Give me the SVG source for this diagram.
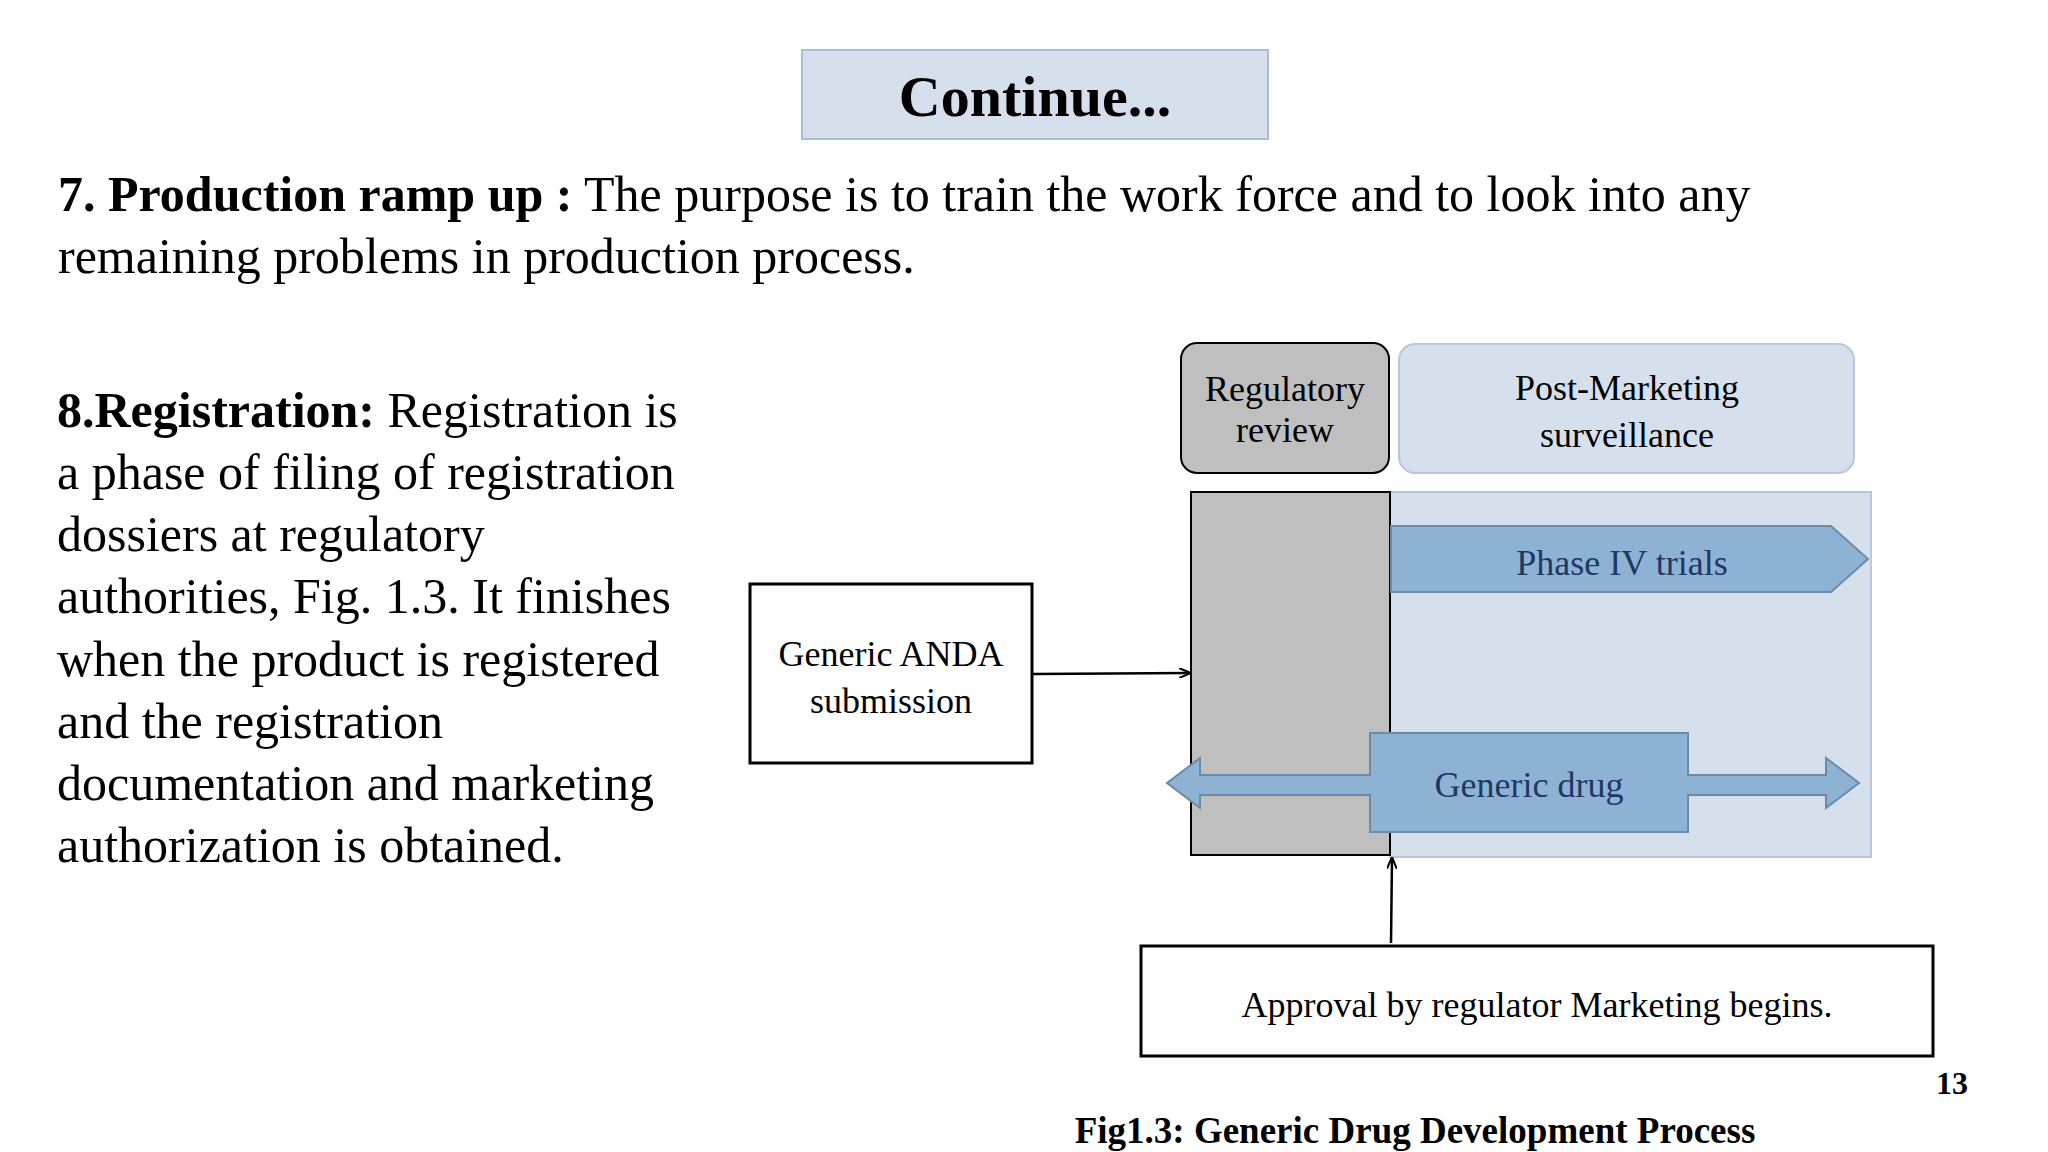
<svg xmlns="http://www.w3.org/2000/svg" width="2048" height="1152" viewBox="0 0 2048 1152">
<defs>
<style>
text{font-family:"Liberation Serif","Times New Roman",serif;fill:#000}
.b{font-size:50px}
.n{font-size:36px;text-anchor:middle}
.blue{fill:#1f3864}
</style>
<marker id="ah" markerWidth="12" markerHeight="10" refX="11" refY="5" orient="auto" markerUnits="userSpaceOnUse"><path d="M0,0 L12,5 L0,10" fill="none" stroke="#000" stroke-width="2"/></marker>
</defs>
<rect width="2048" height="1152" fill="#fff"/>
<g id="title"><rect x="802" y="50" width="466" height="89" fill="#d6e0ec" stroke="#a8bed6" stroke-width="2"/>
<text x="1035" y="116" font-size="58" font-weight="bold" text-anchor="middle">Continue...</text></g>
<g id="text7"><text class="b" x="58" y="211"><tspan font-weight="bold">7. Production ramp up :</tspan> The purpose is to train the work force and to look into any</text>
<text class="b" x="58" y="273">remaining problems in production process.</text></g>
<g id="text8" class="b">
<text class="b" x="57" y="427"><tspan font-weight="bold">8.Registration:</tspan> Registration is</text>
<text class="b" x="57" y="489">a phase of filing of registration</text>
<text class="b" x="57" y="551">dossiers at regulatory</text>
<text class="b" x="57" y="613">authorities, Fig. 1.3. It finishes</text>
<text class="b" x="57" y="676">when the product is registered</text>
<text class="b" x="57" y="738">and the registration</text>
<text class="b" x="57" y="800">documentation and marketing</text>
<text class="b" x="57" y="862">authorization is obtained.</text></g>
<g id="bg"><rect x="1390" y="492" width="481" height="365" fill="#d6e0ec" stroke="#b8c8dc" stroke-width="2"/>
<rect x="1191" y="492" width="199" height="363" fill="#bfbfbf" stroke="#000" stroke-width="2"/></g>
<g id="reg"><rect x="1181" y="343" width="208" height="130" rx="16" fill="#bfbfbf" stroke="#000" stroke-width="2"/>
<text class="n" x="1285" y="401" font-size="34">Regulatory</text><text class="n" x="1285" y="442" font-size="34">review</text></g>
<g id="pm"><rect x="1399" y="344" width="455" height="129" rx="16" fill="#d6e0ec" stroke="#b8c8dc" stroke-width="2"/>
<text class="n" x="1627" y="400">Post-Marketing</text><text class="n" x="1627" y="447">surveillance</text></g>
<g id="phase4"><path d="M1391,526 H1831 L1868,559 L1831,592 H1391 Z" fill="#8eb2d4" stroke="#6d8aa6" stroke-width="2"/>
<text class="n blue" x="1622" y="575">Phase IV trials</text></g>
<g id="generic"><path d="M1200,758 L1200,775 L1370,775 L1370,733 L1688,733 L1688,775 L1826,775 L1826,758 L1859,783 L1826,808 L1826,795 L1688,795 L1688,832 L1370,832 L1370,795 L1200,795 L1200,808 L1167,783 Z" fill="#8eb2d4" stroke="#6d8aa6" stroke-width="2"/>
<text class="n blue" x="1529" y="797">Generic drug</text></g>
<g id="anda"><rect x="750" y="584" width="282" height="179" fill="#fff" stroke="#000" stroke-width="3"/>
<text class="n" x="891" y="666">Generic ANDA</text><text class="n" x="891" y="713">submission</text></g>
<g id="approval"><rect x="1141" y="946" width="792" height="110" fill="#fff" stroke="#000" stroke-width="3"/>
<text class="n" x="1537" y="1017">Approval by regulator Marketing begins.</text></g>
<g id="connectors" stroke="#000" stroke-width="2.5" fill="none">
<path d="M1032,674 L1190,673" marker-end="url(#ah)"/>
<path d="M1391,943 L1392,858" marker-end="url(#ah)"/></g>
<text x="1952" y="1094" font-size="32" font-weight="bold" text-anchor="middle">13</text>
<text x="1415" y="1143" font-size="37" font-weight="bold" text-anchor="middle">Fig1.3: Generic Drug Development Process</text>
</svg>
